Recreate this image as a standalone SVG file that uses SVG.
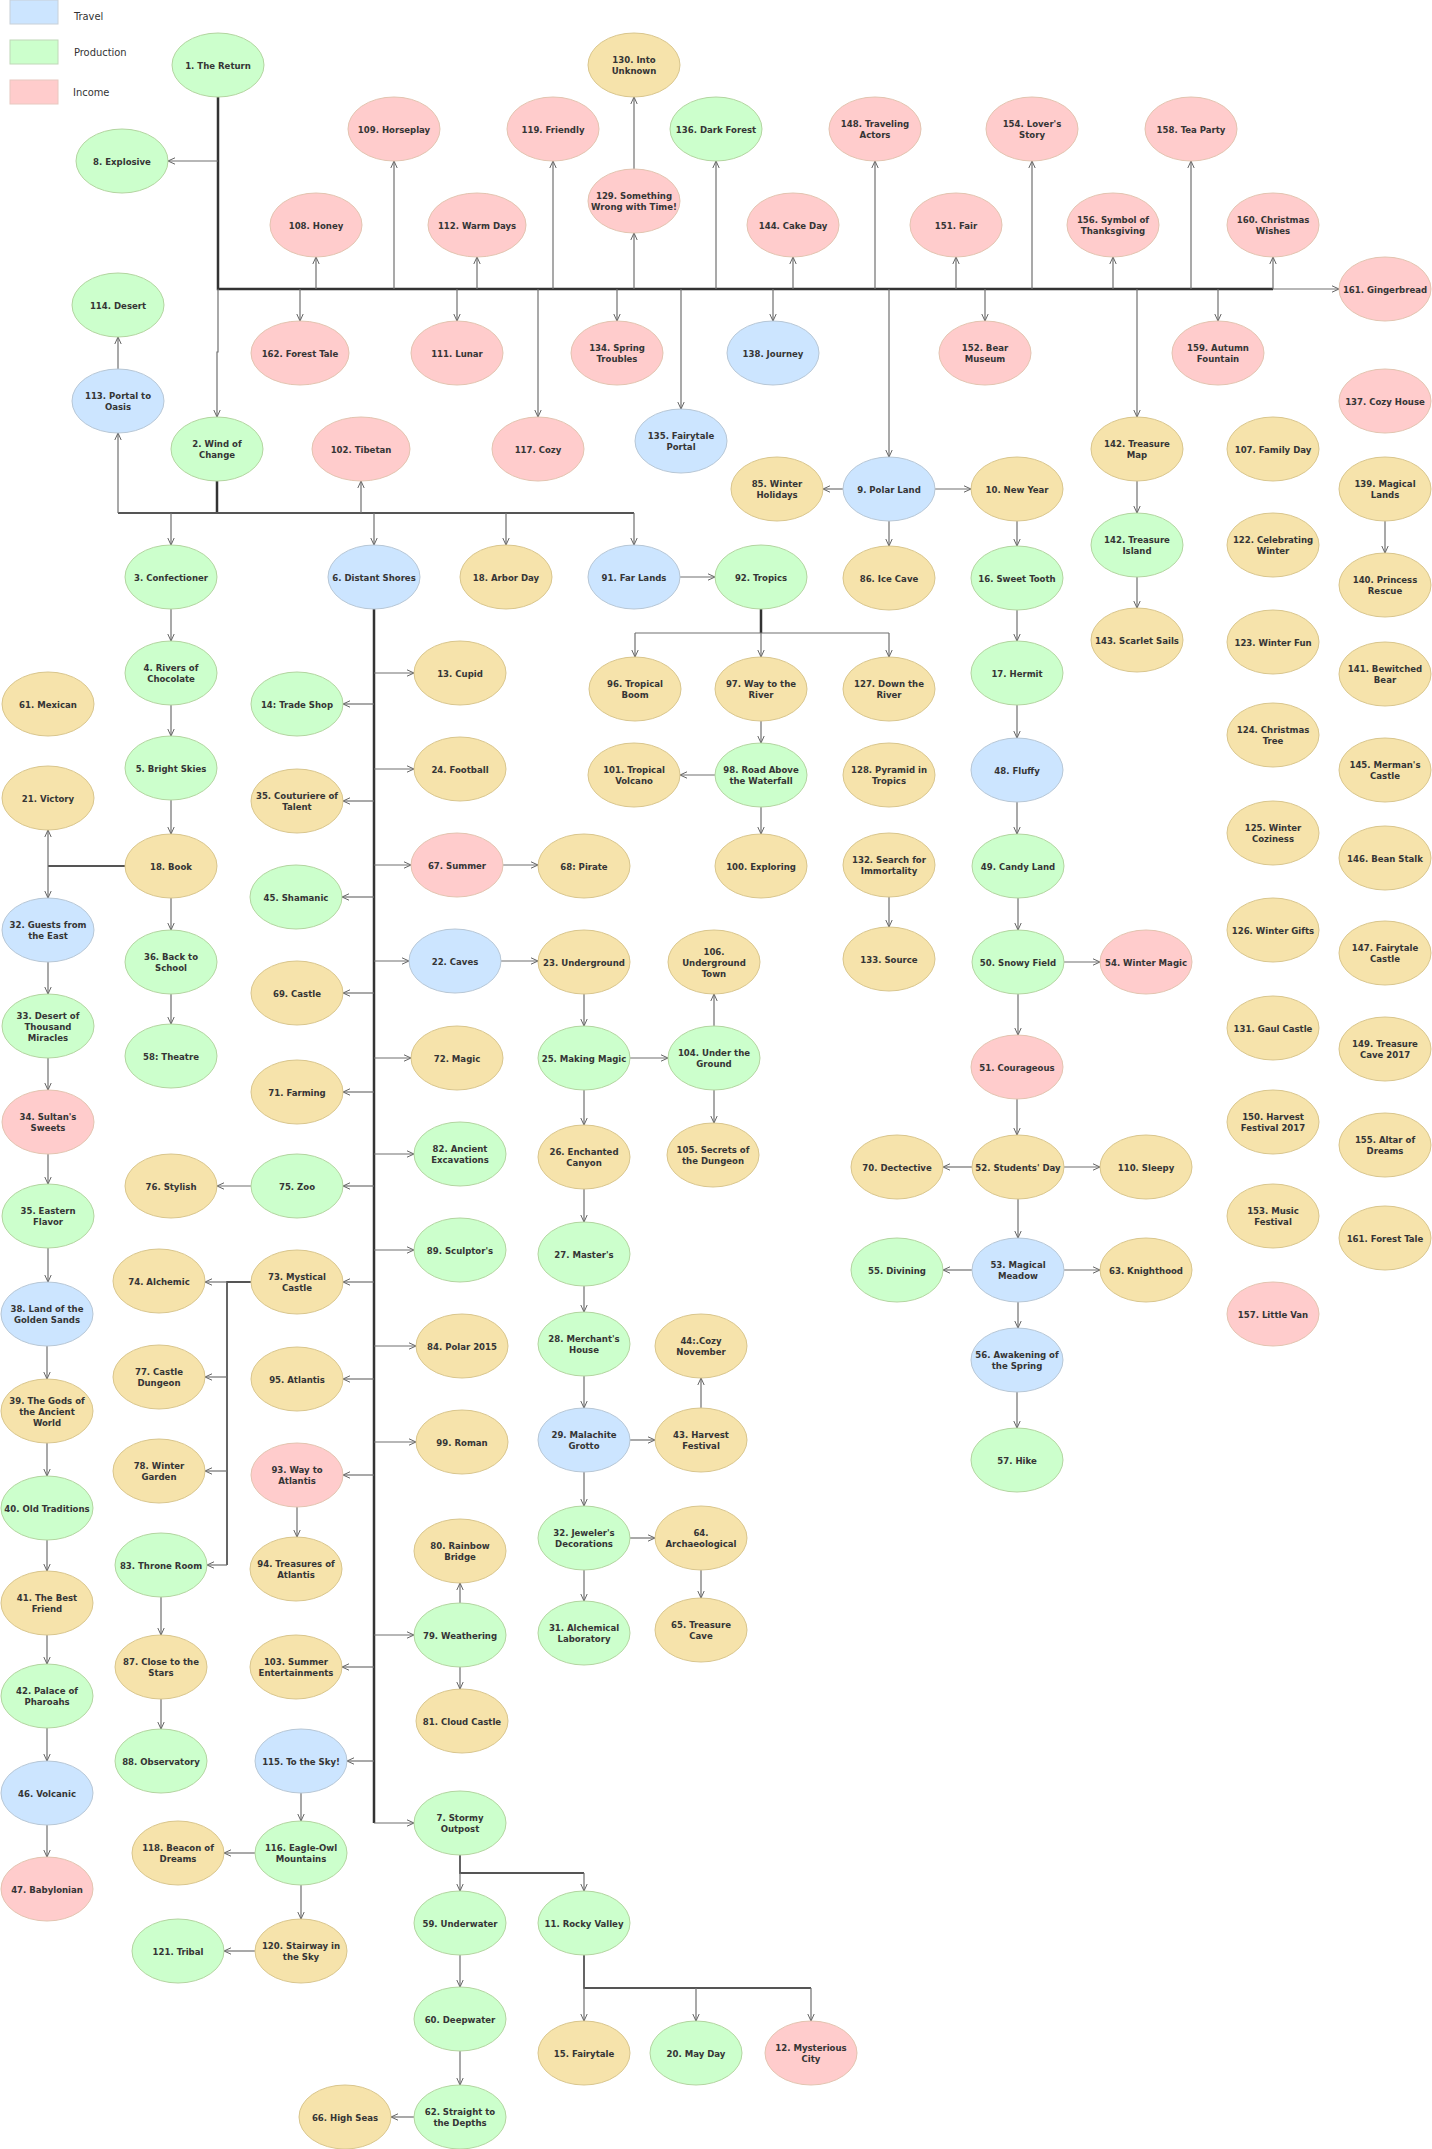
<svg xmlns="http://www.w3.org/2000/svg" width="1432" height="2149" viewBox="0 0 1432 2149">
<style>
ellipse{stroke-width:1}
.b{fill:#cce5ff;stroke:#b7c7d6}
.g{fill:#ccffcc;stroke:#b3d5a0}
.p{fill:#ffcccc;stroke:#e3c4b0}
.y{fill:#f6e3ab;stroke:#d9c68d}
text{font-family:"DejaVu Sans Condensed","DejaVu Sans",sans-serif;font-stretch:condensed;font-weight:bold;font-size:9.5px;fill:#353535;text-anchor:middle}
.lg{font-weight:normal;font-size:11px;text-anchor:start;fill:#333}
.e{fill:none;stroke:#707070;stroke-width:1.2}
.ea{fill:none;stroke:#707070;stroke-width:1.2;marker-end:url(#a)}
.t{fill:none;stroke:#333;stroke-width:2.5}
.m{fill:none;stroke:#555;stroke-width:1.8}
</style>
<defs>
<marker id="a" markerWidth="9" markerHeight="9" refX="7.5" refY="4" orient="auto" markerUnits="userSpaceOnUse"><path d="M0.5,0.8 L7.5,4 L0.5,7.2" fill="none" stroke="#666" stroke-width="1"/></marker>
</defs>
<rect width="1432" height="2149" fill="#fff"/>
<g id="legend">
<rect x="10" y="0" width="48" height="24" fill="#cce5ff" stroke="#c8d0d8"/>
<rect x="10" y="40" width="48" height="24" fill="#ccffcc" stroke="#c0d8b8"/>
<rect x="10" y="80" width="48" height="24" fill="#ffcccc" stroke="#e8c8c0"/>
<text class="lg" x="74" y="20">Travel</text>
<text class="lg" x="74" y="56">Production</text>
<text class="lg" x="73" y="96">Income</text>
</g>
<g id="connectors">
<path class="t" d="M218,97 V289 H1273"/>
<path class="ea" d="M1273,289 H1339"/>
<path class="ea" d="M218,161 H168"/>
<path class="ea" d="M316,289 V257"/>
<path class="ea" d="M394,289 V161"/>
<path class="ea" d="M477,289 V257"/>
<path class="ea" d="M553,289 V161"/>
<path class="ea" d="M634,289 V233"/>
<path class="ea" d="M716,289 V161"/>
<path class="ea" d="M793,289 V257"/>
<path class="ea" d="M875,289 V161"/>
<path class="ea" d="M956,289 V257"/>
<path class="ea" d="M1032,289 V161"/>
<path class="ea" d="M1113,289 V257"/>
<path class="ea" d="M1191,289 V161"/>
<path class="ea" d="M1273,289 V257"/>
<path class="ea" d="M634,169 V97"/>
<path class="ea" d="M300,289 V321"/>
<path class="ea" d="M457,289 V321"/>
<path class="ea" d="M538,289 V417"/>
<path class="ea" d="M617,289 V321"/>
<path class="ea" d="M681,289 V409"/>
<path class="ea" d="M773,289 V321"/>
<path class="ea" d="M889,289 V457"/>
<path class="ea" d="M985,289 V321"/>
<path class="ea" d="M1137,289 V417"/>
<path class="ea" d="M1218,289 V321"/>
<path class="ea" d="M218,289 V352 H217 V417"/>
<path class="ea" d="M118,369 V337"/>
<path class="t" d="M217,481 V513"/>
<path class="m" d="M118,513 H634"/>
<path class="ea" d="M118,513 V433"/>
<path class="ea" d="M361,513 V481"/>
<path class="ea" d="M171,513 V545"/>
<path class="ea" d="M374,513 V545"/>
<path class="ea" d="M506,513 V545"/>
<path class="ea" d="M634,513 V545"/>
<path class="ea" d="M843,489 H823"/>
<path class="ea" d="M935,489 H971"/>
<path class="ea" d="M889,521 V546"/>
<path class="ea" d="M1017,521 V546"/>
<path class="ea" d="M1137,481 V513"/>
<path class="ea" d="M1137,577 V608"/>
<path class="ea" d="M1385,521 V553"/>
<path class="ea" d="M680,577 H715"/>
<path class="t" d="M761,609 V633"/>
<path class="e" d="M635,633 H889"/>
<path class="ea" d="M635,633 V657"/>
<path class="ea" d="M761,633 V657"/>
<path class="ea" d="M889,633 V657"/>
<path class="ea" d="M761,721 V743"/>
<path class="ea" d="M715,775 H680"/>
<path class="ea" d="M761,807 V834"/>
<path class="ea" d="M889,897 V927"/>
<path class="ea" d="M1017,610 V641"/>
<path class="ea" d="M1017,705 V738"/>
<path class="ea" d="M1017,802 V834"/>
<path class="ea" d="M1018,898 V930"/>
<path class="ea" d="M1064,962 H1100"/>
<path class="ea" d="M1018,994 V1035"/>
<path class="ea" d="M1017,1099 V1135"/>
<path class="ea" d="M972,1167 H943"/>
<path class="ea" d="M1064,1167 H1100"/>
<path class="ea" d="M1018,1199 V1238"/>
<path class="ea" d="M972,1270 H943"/>
<path class="ea" d="M1064,1270 H1100"/>
<path class="ea" d="M1018,1302 V1328"/>
<path class="ea" d="M1017,1392 V1428"/>
<path class="ea" d="M171,609 V641"/>
<path class="ea" d="M171,705 V736"/>
<path class="ea" d="M171,800 V834"/>
<path class="ea" d="M171,898 V930"/>
<path class="ea" d="M171,994 V1024"/>
<path class="m" d="M125,866 H48"/>
<path class="ea" d="M48,866 V830"/>
<path class="ea" d="M48,866 V898"/>
<path class="ea" d="M48,962 V994"/>
<path class="ea" d="M48,1058 V1090"/>
<path class="ea" d="M48,1154 V1184"/>
<path class="ea" d="M48,1248 V1282"/>
<path class="ea" d="M47,1346 V1379"/>
<path class="ea" d="M47,1443 V1476"/>
<path class="ea" d="M47,1540 V1571"/>
<path class="ea" d="M47,1635 V1664"/>
<path class="ea" d="M47,1728 V1761"/>
<path class="ea" d="M47,1825 V1857"/>
<path class="t" d="M374,609 V1823"/>
<path class="ea" d="M374,673 H414"/>
<path class="ea" d="M374,769 H414"/>
<path class="ea" d="M374,865 H411"/>
<path class="ea" d="M374,961 H409"/>
<path class="ea" d="M374,1058 H411"/>
<path class="ea" d="M374,1154 H414"/>
<path class="ea" d="M374,1250 H414"/>
<path class="ea" d="M374,1346 H416"/>
<path class="ea" d="M374,1442 H416"/>
<path class="ea" d="M374,1635 H414"/>
<path class="ea" d="M374,1823 H414"/>
<path class="ea" d="M374,704 H343"/>
<path class="ea" d="M374,801 H343"/>
<path class="ea" d="M374,897 H342"/>
<path class="ea" d="M374,993 H343"/>
<path class="ea" d="M374,1092 H343"/>
<path class="ea" d="M374,1186 H343"/>
<path class="ea" d="M374,1282 H343"/>
<path class="ea" d="M374,1379 H343"/>
<path class="ea" d="M374,1475 H343"/>
<path class="ea" d="M374,1667 H342"/>
<path class="ea" d="M374,1761 H347"/>
<path class="ea" d="M503,865 H538"/>
<path class="ea" d="M501,961 H538"/>
<path class="ea" d="M584,994 V1026"/>
<path class="ea" d="M630,1058 H668"/>
<path class="ea" d="M714,1026 V994"/>
<path class="ea" d="M714,1090 V1123"/>
<path class="ea" d="M584,1090 V1125"/>
<path class="ea" d="M584,1189 V1222"/>
<path class="ea" d="M584,1286 V1312"/>
<path class="ea" d="M584,1376 V1408"/>
<path class="ea" d="M630,1440 H655"/>
<path class="ea" d="M701,1408 V1378"/>
<path class="ea" d="M584,1472 V1506"/>
<path class="ea" d="M630,1538 H655"/>
<path class="ea" d="M701,1570 V1598"/>
<path class="ea" d="M584,1570 V1601"/>
<path class="ea" d="M251,1186 H217"/>
<path class="m" d="M251,1282 H227 V1565"/>
<path class="ea" d="M227,1282 H205"/>
<path class="ea" d="M227,1377 H205"/>
<path class="ea" d="M227,1471 H205"/>
<path class="ea" d="M227,1565 H207"/>
<path class="ea" d="M297,1507 V1537"/>
<path class="ea" d="M161,1597 V1635"/>
<path class="ea" d="M161,1699 V1729"/>
<path class="ea" d="M460,1603 V1583"/>
<path class="ea" d="M460,1667 V1689"/>
<path class="ea" d="M301,1793 V1821"/>
<path class="ea" d="M255,1853 H224"/>
<path class="ea" d="M301,1885 V1919"/>
<path class="ea" d="M255,1951 H224"/>
<path class="m" d="M460,1855 V1873 H584"/>
<path class="ea" d="M460,1873 V1891"/>
<path class="ea" d="M584,1873 V1891"/>
<path class="ea" d="M460,1955 V1987"/>
<path class="ea" d="M460,2051 V2085"/>
<path class="ea" d="M414,2117 H391"/>
<path class="m" d="M584,1955 V1988 H811"/>
<path class="ea" d="M584,1988 V2021"/>
<path class="ea" d="M696,1988 V2021"/>
<path class="ea" d="M811,1988 V2021"/>
</g>
<g id="n1"><ellipse class="g" cx="218" cy="65" rx="46" ry="32"/><text x="218" y="68.7">1. The Return</text></g>
<g id="n130"><ellipse class="y" cx="634" cy="65" rx="46" ry="32"/><text x="634" y="63.2"><tspan x="634">130. Into</tspan><tspan x="634" dy="11">Unknown</tspan></text></g>
<g id="n109"><ellipse class="p" cx="394" cy="129" rx="46" ry="32"/><text x="394" y="132.7">109. Horseplay</text></g>
<g id="n119"><ellipse class="p" cx="553" cy="129" rx="46" ry="32"/><text x="553" y="132.7">119. Friendly</text></g>
<g id="n136"><ellipse class="g" cx="716" cy="129" rx="46" ry="32"/><text x="716" y="132.7">136. Dark Forest</text></g>
<g id="n148"><ellipse class="p" cx="875" cy="129" rx="46" ry="32"/><text x="875" y="127.2"><tspan x="875">148. Traveling</tspan><tspan x="875" dy="11">Actors</tspan></text></g>
<g id="n154"><ellipse class="p" cx="1032" cy="129" rx="46" ry="32"/><text x="1032" y="127.2"><tspan x="1032">154. Lover's</tspan><tspan x="1032" dy="11">Story</tspan></text></g>
<g id="n158"><ellipse class="p" cx="1191" cy="129" rx="46" ry="32"/><text x="1191" y="132.7">158. Tea Party</text></g>
<g id="n8"><ellipse class="g" cx="122" cy="161" rx="46" ry="32"/><text x="122" y="164.7">8. Explosive</text></g>
<g id="n129"><ellipse class="p" cx="634" cy="201" rx="46" ry="32"/><text x="634" y="199.2"><tspan x="634">129. Something</tspan><tspan x="634" dy="11">Wrong with Time!</tspan></text></g>
<g id="n108"><ellipse class="p" cx="316" cy="225" rx="46" ry="32"/><text x="316" y="228.7">108. Honey</text></g>
<g id="n112"><ellipse class="p" cx="477" cy="225" rx="49" ry="32"/><text x="477" y="228.7">112. Warm Days</text></g>
<g id="n144"><ellipse class="p" cx="793" cy="225" rx="46" ry="32"/><text x="793" y="228.7">144. Cake Day</text></g>
<g id="n151"><ellipse class="p" cx="956" cy="225" rx="46" ry="32"/><text x="956" y="228.7">151. Fair</text></g>
<g id="n156"><ellipse class="p" cx="1113" cy="225" rx="46" ry="32"/><text x="1113" y="223.2"><tspan x="1113">156. Symbol of</tspan><tspan x="1113" dy="11">Thanksgiving</tspan></text></g>
<g id="n160"><ellipse class="p" cx="1273" cy="225" rx="46" ry="32"/><text x="1273" y="223.2"><tspan x="1273">160. Christmas</tspan><tspan x="1273" dy="11">Wishes</tspan></text></g>
<g id="n161"><ellipse class="p" cx="1385" cy="289" rx="46" ry="32"/><text x="1385" y="292.7">161. Gingerbread</text></g>
<g id="n114"><ellipse class="g" cx="118" cy="305" rx="46" ry="32"/><text x="118" y="308.7">114. Desert</text></g>
<g id="n162"><ellipse class="p" cx="300" cy="353" rx="49" ry="32"/><text x="300" y="356.7">162. Forest Tale</text></g>
<g id="n111"><ellipse class="p" cx="457" cy="353" rx="46" ry="32"/><text x="457" y="356.7">111. Lunar</text></g>
<g id="n134"><ellipse class="p" cx="617" cy="353" rx="46" ry="32"/><text x="617" y="351.2"><tspan x="617">134. Spring</tspan><tspan x="617" dy="11">Troubles</tspan></text></g>
<g id="n138"><ellipse class="b" cx="773" cy="353" rx="46" ry="32"/><text x="773" y="356.7">138. Journey</text></g>
<g id="n152"><ellipse class="p" cx="985" cy="353" rx="46" ry="32"/><text x="985" y="351.2"><tspan x="985">152. Bear</tspan><tspan x="985" dy="11">Museum</tspan></text></g>
<g id="n159"><ellipse class="p" cx="1218" cy="353" rx="46" ry="32"/><text x="1218" y="351.2"><tspan x="1218">159. Autumn</tspan><tspan x="1218" dy="11">Fountain</tspan></text></g>
<g id="n113"><ellipse class="b" cx="118" cy="401" rx="46" ry="32"/><text x="118" y="399.2"><tspan x="118">113. Portal to</tspan><tspan x="118" dy="11">Oasis</tspan></text></g>
<g id="n137"><ellipse class="p" cx="1385" cy="401" rx="46" ry="32"/><text x="1385" y="404.7">137. Cozy House</text></g>
<g id="n2"><ellipse class="g" cx="217" cy="449" rx="46" ry="32"/><text x="217" y="447.2"><tspan x="217">2. Wind of</tspan><tspan x="217" dy="11">Change</tspan></text></g>
<g id="n102"><ellipse class="p" cx="361" cy="449" rx="49" ry="32"/><text x="361" y="452.7">102. Tibetan</text></g>
<g id="n117"><ellipse class="p" cx="538" cy="449" rx="46" ry="32"/><text x="538" y="452.7">117. Cozy</text></g>
<g id="n135"><ellipse class="b" cx="681" cy="441" rx="46" ry="32"/><text x="681" y="439.2"><tspan x="681">135. Fairytale</tspan><tspan x="681" dy="11">Portal</tspan></text></g>
<g id="n142a"><ellipse class="y" cx="1137" cy="449" rx="46" ry="32"/><text x="1137" y="447.2"><tspan x="1137">142. Treasure</tspan><tspan x="1137" dy="11">Map</tspan></text></g>
<g id="n107"><ellipse class="y" cx="1273" cy="449" rx="46" ry="32"/><text x="1273" y="452.7">107. Family Day</text></g>
<g id="n85"><ellipse class="y" cx="777" cy="489" rx="46" ry="32"/><text x="777" y="487.2"><tspan x="777">85. Winter</tspan><tspan x="777" dy="11">Holidays</tspan></text></g>
<g id="n9"><ellipse class="b" cx="889" cy="489" rx="46" ry="32"/><text x="889" y="492.7">9. Polar Land</text></g>
<g id="n10"><ellipse class="y" cx="1017" cy="489" rx="46" ry="32"/><text x="1017" y="492.7">10. New Year</text></g>
<g id="n139"><ellipse class="y" cx="1385" cy="489" rx="46" ry="32"/><text x="1385" y="487.2"><tspan x="1385">139. Magical</tspan><tspan x="1385" dy="11">Lands</tspan></text></g>
<g id="n142b"><ellipse class="g" cx="1137" cy="545" rx="46" ry="32"/><text x="1137" y="543.2"><tspan x="1137">142. Treasure</tspan><tspan x="1137" dy="11">Island</tspan></text></g>
<g id="n122"><ellipse class="y" cx="1273" cy="545" rx="46" ry="32"/><text x="1273" y="543.2"><tspan x="1273">122. Celebrating</tspan><tspan x="1273" dy="11">Winter</tspan></text></g>
<g id="n3"><ellipse class="g" cx="171" cy="577" rx="46" ry="32"/><text x="171" y="580.7">3. Confectioner</text></g>
<g id="n6"><ellipse class="b" cx="374" cy="577" rx="46" ry="32"/><text x="374" y="580.7">6. Distant Shores</text></g>
<g id="n18a"><ellipse class="y" cx="506" cy="577" rx="46" ry="32"/><text x="506" y="580.7">18. Arbor Day</text></g>
<g id="n91"><ellipse class="b" cx="634" cy="577" rx="46" ry="32"/><text x="634" y="580.7">91. Far Lands</text></g>
<g id="n92"><ellipse class="g" cx="761" cy="577" rx="46" ry="32"/><text x="761" y="580.7">92. Tropics</text></g>
<g id="n86"><ellipse class="y" cx="889" cy="578" rx="46" ry="32"/><text x="889" y="581.7">86. Ice Cave</text></g>
<g id="n16"><ellipse class="g" cx="1017" cy="578" rx="46" ry="32"/><text x="1017" y="581.7">16. Sweet Tooth</text></g>
<g id="n140"><ellipse class="y" cx="1385" cy="585" rx="46" ry="32"/><text x="1385" y="583.2"><tspan x="1385">140. Princess</tspan><tspan x="1385" dy="11">Rescue</tspan></text></g>
<g id="n143"><ellipse class="y" cx="1137" cy="640" rx="46" ry="32"/><text x="1137" y="643.7">143. Scarlet Sails</text></g>
<g id="n123"><ellipse class="y" cx="1273" cy="642" rx="46" ry="32"/><text x="1273" y="645.7">123. Winter Fun</text></g>
<g id="n4"><ellipse class="g" cx="171" cy="673" rx="46" ry="32"/><text x="171" y="671.2"><tspan x="171">4. Rivers of</tspan><tspan x="171" dy="11">Chocolate</tspan></text></g>
<g id="n13"><ellipse class="y" cx="460" cy="673" rx="46" ry="32"/><text x="460" y="676.7">13. Cupid</text></g>
<g id="n17"><ellipse class="g" cx="1017" cy="673" rx="46" ry="32"/><text x="1017" y="676.7">17. Hermit</text></g>
<g id="n141"><ellipse class="y" cx="1385" cy="674" rx="46" ry="32"/><text x="1385" y="672.2"><tspan x="1385">141. Bewitched</tspan><tspan x="1385" dy="11">Bear</tspan></text></g>
<g id="n96"><ellipse class="y" cx="635" cy="689" rx="46" ry="32"/><text x="635" y="687.2"><tspan x="635">96. Tropical</tspan><tspan x="635" dy="11">Boom</tspan></text></g>
<g id="n97"><ellipse class="y" cx="761" cy="689" rx="46" ry="32"/><text x="761" y="687.2"><tspan x="761">97. Way to the</tspan><tspan x="761" dy="11">River</tspan></text></g>
<g id="n127"><ellipse class="y" cx="889" cy="689" rx="46" ry="32"/><text x="889" y="687.2"><tspan x="889">127. Down the</tspan><tspan x="889" dy="11">River</tspan></text></g>
<g id="n61"><ellipse class="y" cx="48" cy="704" rx="46" ry="32"/><text x="48" y="707.7">61. Mexican</text></g>
<g id="n14"><ellipse class="g" cx="297" cy="704" rx="46" ry="32"/><text x="297" y="707.7">14: Trade Shop</text></g>
<g id="n124"><ellipse class="y" cx="1273" cy="735" rx="46" ry="32"/><text x="1273" y="733.2"><tspan x="1273">124. Christmas</tspan><tspan x="1273" dy="11">Tree</tspan></text></g>
<g id="n5"><ellipse class="g" cx="171" cy="768" rx="46" ry="32"/><text x="171" y="771.7">5. Bright Skies</text></g>
<g id="n24"><ellipse class="y" cx="460" cy="769" rx="46" ry="32"/><text x="460" y="772.7">24. Football</text></g>
<g id="n48"><ellipse class="b" cx="1017" cy="770" rx="46" ry="32"/><text x="1017" y="773.7">48. Fluffy</text></g>
<g id="n145"><ellipse class="y" cx="1385" cy="770" rx="46" ry="32"/><text x="1385" y="768.2"><tspan x="1385">145. Merman's</tspan><tspan x="1385" dy="11">Castle</tspan></text></g>
<g id="n101"><ellipse class="y" cx="634" cy="775" rx="46" ry="32"/><text x="634" y="773.2"><tspan x="634">101. Tropical</tspan><tspan x="634" dy="11">Volcano</tspan></text></g>
<g id="n98"><ellipse class="g" cx="761" cy="775" rx="46" ry="32"/><text x="761" y="773.2"><tspan x="761">98. Road Above</tspan><tspan x="761" dy="11">the Waterfall</tspan></text></g>
<g id="n128"><ellipse class="y" cx="889" cy="775" rx="46" ry="32"/><text x="889" y="773.2"><tspan x="889">128. Pyramid in</tspan><tspan x="889" dy="11">Tropics</tspan></text></g>
<g id="n21"><ellipse class="y" cx="48" cy="798" rx="46" ry="32"/><text x="48" y="801.7">21. Victory</text></g>
<g id="n35a"><ellipse class="y" cx="297" cy="801" rx="46" ry="32"/><text x="297" y="799.2"><tspan x="297">35. Couturiere of</tspan><tspan x="297" dy="11">Talent</tspan></text></g>
<g id="n125"><ellipse class="y" cx="1273" cy="833" rx="46" ry="32"/><text x="1273" y="831.2"><tspan x="1273">125. Winter</tspan><tspan x="1273" dy="11">Coziness</tspan></text></g>
<g id="n146"><ellipse class="y" cx="1385" cy="858" rx="46" ry="32"/><text x="1385" y="861.7">146. Bean Stalk</text></g>
<g id="n18b"><ellipse class="y" cx="171" cy="866" rx="46" ry="32"/><text x="171" y="869.7">18. Book</text></g>
<g id="n67"><ellipse class="p" cx="457" cy="865" rx="46" ry="32"/><text x="457" y="868.7">67. Summer</text></g>
<g id="n68"><ellipse class="y" cx="584" cy="866" rx="46" ry="32"/><text x="584" y="869.7">68: Pirate</text></g>
<g id="n100"><ellipse class="y" cx="761" cy="866" rx="46" ry="32"/><text x="761" y="869.7">100. Exploring</text></g>
<g id="n132"><ellipse class="y" cx="889" cy="865" rx="46" ry="32"/><text x="889" y="863.2"><tspan x="889">132. Search for</tspan><tspan x="889" dy="11">Immortality</tspan></text></g>
<g id="n49"><ellipse class="g" cx="1018" cy="866" rx="46" ry="32"/><text x="1018" y="869.7">49. Candy Land</text></g>
<g id="n45"><ellipse class="g" cx="296" cy="897" rx="46" ry="32"/><text x="296" y="900.7">45. Shamanic</text></g>
<g id="n32a"><ellipse class="b" cx="48" cy="930" rx="46" ry="32"/><text x="48" y="928.2"><tspan x="48">32. Guests from</tspan><tspan x="48" dy="11">the East</tspan></text></g>
<g id="n126"><ellipse class="y" cx="1273" cy="930" rx="46" ry="32"/><text x="1273" y="933.7">126. Winter Gifts</text></g>
<g id="n147"><ellipse class="y" cx="1385" cy="953" rx="46" ry="32"/><text x="1385" y="951.2"><tspan x="1385">147. Fairytale</tspan><tspan x="1385" dy="11">Castle</tspan></text></g>
<g id="n133"><ellipse class="y" cx="889" cy="959" rx="46" ry="32"/><text x="889" y="962.7">133. Source</text></g>
<g id="n36"><ellipse class="g" cx="171" cy="962" rx="46" ry="32"/><text x="171" y="960.2"><tspan x="171">36. Back to</tspan><tspan x="171" dy="11">School</tspan></text></g>
<g id="n22"><ellipse class="b" cx="455" cy="961" rx="46" ry="32"/><text x="455" y="964.7">22. Caves</text></g>
<g id="n23"><ellipse class="y" cx="584" cy="962" rx="46" ry="32"/><text x="584" y="965.7">23. Underground</text></g>
<g id="n106"><ellipse class="y" cx="714" cy="962" rx="46" ry="32"/><text x="714" y="954.7"><tspan x="714">106.</tspan><tspan x="714" dy="11">Underground</tspan><tspan x="714" dy="11">Town</tspan></text></g>
<g id="n50"><ellipse class="g" cx="1018" cy="962" rx="46" ry="32"/><text x="1018" y="965.7">50. Snowy Field</text></g>
<g id="n54"><ellipse class="p" cx="1146" cy="962" rx="46" ry="32"/><text x="1146" y="965.7">54. Winter Magic</text></g>
<g id="n69"><ellipse class="y" cx="297" cy="993" rx="46" ry="32"/><text x="297" y="996.7">69. Castle</text></g>
<g id="n33"><ellipse class="g" cx="48" cy="1026" rx="46" ry="32"/><text x="48" y="1018.7"><tspan x="48">33. Desert of</tspan><tspan x="48" dy="11">Thousand</tspan><tspan x="48" dy="11">Miracles</tspan></text></g>
<g id="n131"><ellipse class="y" cx="1273" cy="1028" rx="46" ry="32"/><text x="1273" y="1031.7">131. Gaul Castle</text></g>
<g id="n149"><ellipse class="y" cx="1385" cy="1049" rx="46" ry="32"/><text x="1385" y="1047.2"><tspan x="1385">149. Treasure</tspan><tspan x="1385" dy="11">Cave 2017</tspan></text></g>
<g id="n58"><ellipse class="g" cx="171" cy="1056" rx="46" ry="32"/><text x="171" y="1059.7">58: Theatre</text></g>
<g id="n72"><ellipse class="y" cx="457" cy="1058" rx="46" ry="32"/><text x="457" y="1061.7">72. Magic</text></g>
<g id="n25"><ellipse class="g" cx="584" cy="1058" rx="46" ry="32"/><text x="584" y="1061.7">25. Making Magic</text></g>
<g id="n104"><ellipse class="g" cx="714" cy="1058" rx="46" ry="32"/><text x="714" y="1056.2"><tspan x="714">104. Under the</tspan><tspan x="714" dy="11">Ground</tspan></text></g>
<g id="n51"><ellipse class="p" cx="1017" cy="1067" rx="46" ry="32"/><text x="1017" y="1070.7">51. Courageous</text></g>
<g id="n71"><ellipse class="y" cx="297" cy="1092" rx="46" ry="32"/><text x="297" y="1095.7">71. Farming</text></g>
<g id="n34"><ellipse class="p" cx="48" cy="1122" rx="46" ry="32"/><text x="48" y="1120.2"><tspan x="48">34. Sultan's</tspan><tspan x="48" dy="11">Sweets</tspan></text></g>
<g id="n150"><ellipse class="y" cx="1273" cy="1122" rx="46" ry="32"/><text x="1273" y="1120.2"><tspan x="1273">150. Harvest</tspan><tspan x="1273" dy="11">Festival 2017</tspan></text></g>
<g id="n155"><ellipse class="y" cx="1385" cy="1145" rx="46" ry="32"/><text x="1385" y="1143.2"><tspan x="1385">155. Altar of</tspan><tspan x="1385" dy="11">Dreams</tspan></text></g>
<g id="n82"><ellipse class="g" cx="460" cy="1154" rx="46" ry="32"/><text x="460" y="1152.2"><tspan x="460">82. Ancient</tspan><tspan x="460" dy="11">Excavations</tspan></text></g>
<g id="n26"><ellipse class="y" cx="584" cy="1157" rx="46" ry="32"/><text x="584" y="1155.2"><tspan x="584">26. Enchanted</tspan><tspan x="584" dy="11">Canyon</tspan></text></g>
<g id="n105"><ellipse class="y" cx="713" cy="1155" rx="46" ry="32"/><text x="713" y="1153.2"><tspan x="713">105. Secrets of</tspan><tspan x="713" dy="11">the Dungeon</tspan></text></g>
<g id="n70"><ellipse class="y" cx="897" cy="1167" rx="46" ry="32"/><text x="897" y="1170.7">70. Dectective</text></g>
<g id="n52"><ellipse class="y" cx="1018" cy="1167" rx="46" ry="32"/><text x="1018" y="1170.7">52. Students' Day</text></g>
<g id="n110"><ellipse class="y" cx="1146" cy="1167" rx="46" ry="32"/><text x="1146" y="1170.7">110. Sleepy</text></g>
<g id="n76"><ellipse class="y" cx="171" cy="1186" rx="46" ry="32"/><text x="171" y="1189.7">76. Stylish</text></g>
<g id="n75"><ellipse class="g" cx="297" cy="1186" rx="46" ry="32"/><text x="297" y="1189.7">75. Zoo</text></g>
<g id="n35b"><ellipse class="g" cx="48" cy="1216" rx="46" ry="32"/><text x="48" y="1214.2"><tspan x="48">35. Eastern</tspan><tspan x="48" dy="11">Flavor</tspan></text></g>
<g id="n153"><ellipse class="y" cx="1273" cy="1216" rx="46" ry="32"/><text x="1273" y="1214.2"><tspan x="1273">153. Music</tspan><tspan x="1273" dy="11">Festival</tspan></text></g>
<g id="n161b"><ellipse class="y" cx="1385" cy="1238" rx="46" ry="32"/><text x="1385" y="1241.7">161. Forest Tale</text></g>
<g id="n89"><ellipse class="g" cx="460" cy="1250" rx="46" ry="32"/><text x="460" y="1253.7">89. Sculptor's</text></g>
<g id="n27"><ellipse class="g" cx="584" cy="1254" rx="46" ry="32"/><text x="584" y="1257.7">27. Master's</text></g>
<g id="n55"><ellipse class="g" cx="897" cy="1270" rx="46" ry="32"/><text x="897" y="1273.7">55. Divining</text></g>
<g id="n53"><ellipse class="b" cx="1018" cy="1270" rx="46" ry="32"/><text x="1018" y="1268.2"><tspan x="1018">53. Magical</tspan><tspan x="1018" dy="11">Meadow</tspan></text></g>
<g id="n63"><ellipse class="y" cx="1146" cy="1270" rx="46" ry="32"/><text x="1146" y="1273.7">63. Knighthood</text></g>
<g id="n74"><ellipse class="y" cx="159" cy="1281" rx="46" ry="32"/><text x="159" y="1284.7">74. Alchemic</text></g>
<g id="n73"><ellipse class="y" cx="297" cy="1282" rx="46" ry="32"/><text x="297" y="1280.2"><tspan x="297">73. Mystical</tspan><tspan x="297" dy="11">Castle</tspan></text></g>
<g id="n38"><ellipse class="b" cx="47" cy="1314" rx="46" ry="32"/><text x="47" y="1312.2"><tspan x="47">38. Land of the</tspan><tspan x="47" dy="11">Golden Sands</tspan></text></g>
<g id="n157"><ellipse class="p" cx="1273" cy="1314" rx="46" ry="32"/><text x="1273" y="1317.7">157. Little Van</text></g>
<g id="n84"><ellipse class="y" cx="462" cy="1346" rx="46" ry="32"/><text x="462" y="1349.7">84. Polar 2015</text></g>
<g id="n28"><ellipse class="g" cx="584" cy="1344" rx="46" ry="32"/><text x="584" y="1342.2"><tspan x="584">28. Merchant's</tspan><tspan x="584" dy="11">House</tspan></text></g>
<g id="n44"><ellipse class="y" cx="701" cy="1346" rx="46" ry="32"/><text x="701" y="1344.2"><tspan x="701">44:.Cozy</tspan><tspan x="701" dy="11">November</tspan></text></g>
<g id="n56"><ellipse class="b" cx="1017" cy="1360" rx="46" ry="32"/><text x="1017" y="1358.2"><tspan x="1017">56. Awakening of</tspan><tspan x="1017" dy="11">the Spring</tspan></text></g>
<g id="n77"><ellipse class="y" cx="159" cy="1377" rx="46" ry="32"/><text x="159" y="1375.2"><tspan x="159">77. Castle</tspan><tspan x="159" dy="11">Dungeon</tspan></text></g>
<g id="n95"><ellipse class="y" cx="297" cy="1379" rx="46" ry="32"/><text x="297" y="1382.7">95. Atlantis</text></g>
<g id="n39"><ellipse class="y" cx="47" cy="1411" rx="46" ry="32"/><text x="47" y="1403.7"><tspan x="47">39. The Gods of</tspan><tspan x="47" dy="11">the Ancient</tspan><tspan x="47" dy="11">World</tspan></text></g>
<g id="n99"><ellipse class="y" cx="462" cy="1442" rx="46" ry="32"/><text x="462" y="1445.7">99. Roman</text></g>
<g id="n29"><ellipse class="b" cx="584" cy="1440" rx="46" ry="32"/><text x="584" y="1438.2"><tspan x="584">29. Malachite</tspan><tspan x="584" dy="11">Grotto</tspan></text></g>
<g id="n43"><ellipse class="y" cx="701" cy="1440" rx="46" ry="32"/><text x="701" y="1438.2"><tspan x="701">43. Harvest</tspan><tspan x="701" dy="11">Festival</tspan></text></g>
<g id="n57"><ellipse class="g" cx="1017" cy="1460" rx="46" ry="32"/><text x="1017" y="1463.7">57. Hike</text></g>
<g id="n78"><ellipse class="y" cx="159" cy="1471" rx="46" ry="32"/><text x="159" y="1469.2"><tspan x="159">78. Winter</tspan><tspan x="159" dy="11">Garden</tspan></text></g>
<g id="n93"><ellipse class="p" cx="297" cy="1475" rx="46" ry="32"/><text x="297" y="1473.2"><tspan x="297">93. Way to</tspan><tspan x="297" dy="11">Atlantis</tspan></text></g>
<g id="n40"><ellipse class="g" cx="47" cy="1508" rx="46" ry="32"/><text x="47" y="1511.7">40. Old Traditions</text></g>
<g id="n32b"><ellipse class="g" cx="584" cy="1538" rx="46" ry="32"/><text x="584" y="1536.2"><tspan x="584">32. Jeweler's</tspan><tspan x="584" dy="11">Decorations</tspan></text></g>
<g id="n64"><ellipse class="y" cx="701" cy="1538" rx="46" ry="32"/><text x="701" y="1536.2"><tspan x="701">64.</tspan><tspan x="701" dy="11">Archaeological</tspan></text></g>
<g id="n80"><ellipse class="y" cx="460" cy="1551" rx="46" ry="32"/><text x="460" y="1549.2"><tspan x="460">80. Rainbow</tspan><tspan x="460" dy="11">Bridge</tspan></text></g>
<g id="n83"><ellipse class="g" cx="161" cy="1565" rx="46" ry="32"/><text x="161" y="1568.7">83. Throne Room</text></g>
<g id="n94"><ellipse class="y" cx="296" cy="1569" rx="46" ry="32"/><text x="296" y="1567.2"><tspan x="296">94. Treasures of</tspan><tspan x="296" dy="11">Atlantis</tspan></text></g>
<g id="n41"><ellipse class="y" cx="47" cy="1603" rx="46" ry="32"/><text x="47" y="1601.2"><tspan x="47">41. The Best</tspan><tspan x="47" dy="11">Friend</tspan></text></g>
<g id="n65"><ellipse class="y" cx="701" cy="1630" rx="46" ry="32"/><text x="701" y="1628.2"><tspan x="701">65. Treasure</tspan><tspan x="701" dy="11">Cave</tspan></text></g>
<g id="n31"><ellipse class="g" cx="584" cy="1633" rx="46" ry="32"/><text x="584" y="1631.2"><tspan x="584">31. Alchemical</tspan><tspan x="584" dy="11">Laboratory</tspan></text></g>
<g id="n79"><ellipse class="g" cx="460" cy="1635" rx="46" ry="32"/><text x="460" y="1638.7">79. Weathering</text></g>
<g id="n87"><ellipse class="y" cx="161" cy="1667" rx="46" ry="32"/><text x="161" y="1665.2"><tspan x="161">87. Close to the</tspan><tspan x="161" dy="11">Stars</tspan></text></g>
<g id="n103"><ellipse class="y" cx="296" cy="1667" rx="46" ry="32"/><text x="296" y="1665.2"><tspan x="296">103. Summer</tspan><tspan x="296" dy="11">Entertainments</tspan></text></g>
<g id="n42"><ellipse class="g" cx="47" cy="1696" rx="46" ry="32"/><text x="47" y="1694.2"><tspan x="47">42. Palace of</tspan><tspan x="47" dy="11">Pharoahs</tspan></text></g>
<g id="n81"><ellipse class="y" cx="462" cy="1721" rx="46" ry="32"/><text x="462" y="1724.7">81. Cloud Castle</text></g>
<g id="n88"><ellipse class="g" cx="161" cy="1761" rx="46" ry="32"/><text x="161" y="1764.7">88. Observatory</text></g>
<g id="n115"><ellipse class="b" cx="301" cy="1761" rx="46" ry="32"/><text x="301" y="1764.7">115. To the Sky!</text></g>
<g id="n46"><ellipse class="b" cx="47" cy="1793" rx="46" ry="32"/><text x="47" y="1796.7">46. Volcanic</text></g>
<g id="n7"><ellipse class="g" cx="460" cy="1823" rx="46" ry="32"/><text x="460" y="1821.2"><tspan x="460">7. Stormy</tspan><tspan x="460" dy="11">Outpost</tspan></text></g>
<g id="n118"><ellipse class="y" cx="178" cy="1853" rx="46" ry="32"/><text x="178" y="1851.2"><tspan x="178">118. Beacon of</tspan><tspan x="178" dy="11">Dreams</tspan></text></g>
<g id="n116"><ellipse class="g" cx="301" cy="1853" rx="46" ry="32"/><text x="301" y="1851.2"><tspan x="301">116. Eagle-Owl</tspan><tspan x="301" dy="11">Mountains</tspan></text></g>
<g id="n47"><ellipse class="p" cx="47" cy="1889" rx="46" ry="32"/><text x="47" y="1892.7">47. Babylonian</text></g>
<g id="n59"><ellipse class="g" cx="460" cy="1923" rx="46" ry="32"/><text x="460" y="1926.7">59. Underwater</text></g>
<g id="n11"><ellipse class="g" cx="584" cy="1923" rx="46" ry="32"/><text x="584" y="1926.7">11. Rocky Valley</text></g>
<g id="n121"><ellipse class="g" cx="178" cy="1951" rx="46" ry="32"/><text x="178" y="1954.7">121. Tribal</text></g>
<g id="n120"><ellipse class="y" cx="301" cy="1951" rx="46" ry="32"/><text x="301" y="1949.2"><tspan x="301">120. Stairway in</tspan><tspan x="301" dy="11">the Sky</tspan></text></g>
<g id="n60"><ellipse class="g" cx="460" cy="2019" rx="46" ry="32"/><text x="460" y="2022.7">60. Deepwater</text></g>
<g id="n15"><ellipse class="y" cx="584" cy="2053" rx="46" ry="32"/><text x="584" y="2056.7">15. Fairytale</text></g>
<g id="n20"><ellipse class="g" cx="696" cy="2053" rx="46" ry="32"/><text x="696" y="2056.7">20. May Day</text></g>
<g id="n12"><ellipse class="p" cx="811" cy="2053" rx="46" ry="32"/><text x="811" y="2051.2"><tspan x="811">12. Mysterious</tspan><tspan x="811" dy="11">City</tspan></text></g>
<g id="n66"><ellipse class="y" cx="345" cy="2117" rx="46" ry="32"/><text x="345" y="2120.7">66. High Seas</text></g>
<g id="n62"><ellipse class="g" cx="460" cy="2117" rx="46" ry="32"/><text x="460" y="2115.2"><tspan x="460">62. Straight to</tspan><tspan x="460" dy="11">the Depths</tspan></text></g>
</svg>
